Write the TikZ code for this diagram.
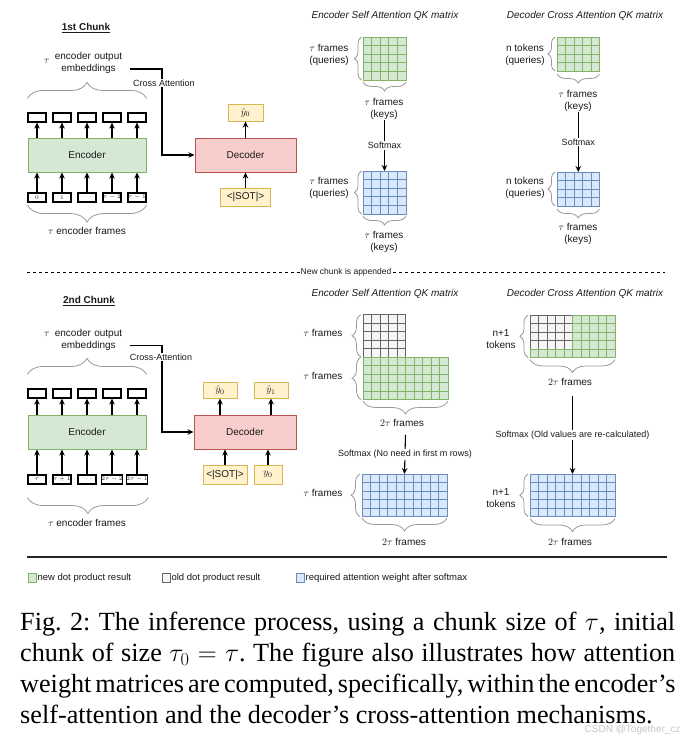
\RequirePackage{fix-cm}
\documentclass[tikz,border=0pt]{standalone}
\usepackage{fontspec}
\setmainfont{Liberation Sans}
\newfontfamily\capfont{Liberation Serif}
\usetikzlibrary{arrows.meta,decorations.pathreplacing,calc}
\definecolor{encF}{HTML}{D5E8D4}\definecolor{encS}{HTML}{82B366}
\definecolor{decF}{HTML}{F8CECC}\definecolor{decS}{HTML}{B85450}
\definecolor{yelF}{HTML}{FFF2CC}\definecolor{yelS}{HTML}{D6B656}
\definecolor{bluF}{HTML}{DAE8FC}\definecolor{bluS}{HTML}{6C8EBF}
\definecolor{gryF}{HTML}{F5F5F5}\definecolor{gryS}{HTML}{666666}
\definecolor{brcC}{HTML}{999999}
\definecolor{txt}{HTML}{1A1A1A}
\newcommand\qkgrid[6]{\foreach \ci in {1,...,#3}{\foreach \ri in {1,...,#4}{\draw[#5] ({#1+(\ci-1)*#6},{#2+(\ri-1)*#6}) rectangle ++(#6,#6);}}}
\newcommand\capline[1]{{\frenchspacing\spaceskip=0.2em plus 0.6em minus 0.05em\relax\makebox[655pt][s]{#1}}}
\newcommand\capnat[1]{{\frenchspacing #1}}
\begin{document}
\begin{tikzpicture}[x=1pt,y=-1pt,
  every node/.style={font=\fontsize{10}{12}\selectfont, text=txt},
  lbl/.style={inner sep=1pt, align=center},
  sm/.style={font=\fontsize{9}{11}\selectfont},
  ttl/.style={font=\fontsize{10}{12}\selectfont\itshape},
  obox/.style={draw=black, fill=white, line width=1.1pt, minimum width=18pt, minimum height=9pt, inner sep=0pt},
  ibox/.style={obox, font=\fontsize{5.5}{6}\selectfont},
  encb/.style={draw=encS, fill=encF, line width=1pt, minimum width=118pt, minimum height=34pt, inner sep=0pt},
  decb/.style={draw=decS, fill=decF, line width=1pt, minimum width=101pt, minimum height=34pt, inner sep=0pt},
  yelb/.style={draw=yelS, fill=yelF, line width=1pt, inner sep=0pt},
  arr/.style={draw=black, line width=1.1pt, -{Stealth[length=6pt,width=5.5pt]}},
  brcl/.style={draw=brcC, line width=0.8pt, decorate},
  gcell/.style={draw=encS, fill=encF, line width=0.9pt},
  bcell/.style={draw=bluS, fill=bluF, line width=0.9pt},
  wcell/.style={draw=gryS, fill=gryF, line width=0.9pt},
  mbox/.style={inner sep=0pt, outer sep=0pt, anchor=north west},
  swlbl/.style={fill=white, sm, inner sep=1pt},
]
\useasboundingbox (0,0) rectangle (690,740);
\fill[white] (0,0) rectangle (690,740);

% ================= 1st chunk =================
\node[font=\fontsize{10}{12}\selectfont\bfseries] (ch1) at (86,28) {\underline{1st Chunk}};
\node[lbl] (tau1) at (47,61) {$\tau$};
\node[lbl, text width=80pt] (emb1) at (88.5,63) {encoder output\\embeddings};
\node[encb] (enc1) at (87,155) {Encoder};
\foreach \i/\x/\t in {1/37/0, 2/62/1, 3/87/{\dots}, 4/112/{\tau-2}, 5/137/{\tau-1}}{
  \node[obox] (o1\i) at (\x,117.5) {};
  \node[ibox] (i1\i) at (\x,197.5) {$\t$};
  \draw[arr] (o1\i.south |- enc1.north) -- (o1\i.south);
  \draw[arr] (i1\i.north) -- (i1\i.north |- enc1.south);
}
\draw[brcl, decoration={brace, amplitude=16pt, raise=14pt}] (o11.north west) -- (o15.north east);
\draw[brcl, decoration={brace, amplitude=17pt, raise=2.5pt}] (i15.south east) -- (i11.south west);
\node[lbl] (ef1) at (87,231) {$\tau$ encoder frames};

\node[decb] (dec1) at (245.5,155) {Decoder};
\node[yelb, minimum width=35pt, minimum height=17pt] (yh1) at (245.5,112.5) {$\hat{y}_0$};
\node[yelb, minimum width=50pt, minimum height=18pt] (sot1) at (245.5,197) {<|SOT|>};
\draw[arr] (yh1.south |- dec1.north) -- (yh1.south);
\draw[arr] (sot1.north) -- (sot1.north |- dec1.south);
\coordinate (c1) at (162,155);
\draw[arr] ([yshift=-6pt]emb1.east) -| (c1) -- (dec1.west);
\node[swlbl] (ca1) at (164,83) {Cross Attention};

% encoder self attention (top)
\node[ttl] (tE1) at (385,16) {Encoder Self Attention QK matrix};
\node[mbox, minimum width=43pt, minimum height=43pt] (mE1g) at (363,37) {};
\qkgrid{363}{37}{5}{5}{gcell}{8.6}
\draw[brcl, decoration={brace, amplitude=7pt, raise=1.5pt}] (mE1g.south west) -- (mE1g.north west);
\draw[brcl, decoration={brace, amplitude=9pt, raise=2pt}] (mE1g.south east) -- (mE1g.south west);
\node[lbl] (qE1g) at (329,55) {$\tau$ frames\\(queries)};
\node[lbl] (kE1g) at (384,108.5) {$\tau$ frames\\(keys)};
\node[mbox, minimum width=43pt, minimum height=43pt] (mE1b) at (363,171) {};
\qkgrid{363}{171}{5}{5}{bcell}{8.6}
\draw[brcl, decoration={brace, amplitude=7pt, raise=1.5pt}] (mE1b.south west) -- (mE1b.north west);
\draw[brcl, decoration={brace, amplitude=9pt, raise=2pt}] (mE1b.south east) -- (mE1b.south west);
\node[lbl] (qE1b) at (329,188) {$\tau$ frames\\(queries)};
\node[lbl] (kE1b) at (384,241.5) {$\tau$ frames\\(keys)};
\draw[arr] (mE1g.south |- kE1g.south) -- node[swlbl] {Softmax} (mE1b.north);

% decoder cross attention (top)
\node[ttl] (tD1) at (585,16) {Decoder Cross Attention QK matrix};
\node[mbox, minimum width=42.5pt, minimum height=34pt] (mD1g) at (557,37) {};
\qkgrid{557}{37}{5}{4}{gcell}{8.5}
\draw[brcl, decoration={brace, amplitude=7pt, raise=2pt}] (mD1g.south west) -- (mD1g.north west);
\draw[brcl, decoration={brace, amplitude=9pt, raise=3pt}] (mD1g.south east) -- (mD1g.south west);
\node[lbl] (qD1g) at (525,55) {n tokens\\(queries)};
\node[lbl] (kD1g) at (578,100.5) {$\tau$ frames\\(keys)};
\node[mbox, minimum width=42.5pt, minimum height=34pt] (mD1b) at (557,172) {};
\qkgrid{557}{172}{5}{4}{bcell}{8.5}
\draw[brcl, decoration={brace, amplitude=7pt, raise=2pt}] (mD1b.south west) -- (mD1b.north west);
\draw[brcl, decoration={brace, amplitude=9pt, raise=3pt}] (mD1b.south east) -- (mD1b.south west);
\node[lbl] (qD1b) at (525,188) {n tokens\\(queries)};
\node[lbl] (kD1b) at (578,233.5) {$\tau$ frames\\(keys)};
\draw[arr] (mD1g.south |- kD1g.south) -- node[swlbl] {Softmax} (mD1b.north);

% ================= separator =================
\coordinate (dl1) at (27,272);
\coordinate (dl2) at (665,272);
\draw[line width=0.8pt, dash pattern=on 3pt off 3pt] (dl1) -- node[fill=white, inner sep=1pt, font=\fontsize{8.5}{10}\selectfont] (nca) {New chunk is appended} (dl2);

% ================= 2nd chunk =================
\node[font=\fontsize{10}{12}\selectfont\bfseries] (ch2) at (89,301) {\underline{2nd Chunk}};
\node[lbl] (tau2) at (47,334) {$\tau$};
\node[lbl, text width=80pt] (emb2) at (88.5,339.5) {encoder output\\embeddings};
\node[encb] (enc2) at (87,432) {Encoder};
\foreach \i/\x/\t in {1/37/{\tau}, 2/62/{\tau+1}, 3/87/{\dots}, 4/112/{2\tau-2}, 5/137/{2\tau-1}}{
  \node[obox] (o2\i) at (\x,393.5) {};
  \node[ibox] (i2\i) at (\x,479.5) {$\t$};
  \draw[arr] (o2\i.south |- enc2.north) -- (o2\i.south);
  \draw[arr] (i2\i.north) -- (i2\i.north |- enc2.south);
}
\draw[brcl, decoration={brace, amplitude=16pt, raise=14pt}] (o21.north west) -- (o25.north east);
\draw[brcl, decoration={brace, amplitude=16pt, raise=13pt}] (i25.south east) -- (i21.south west);
\node[lbl] (ef2) at (87,523) {$\tau$ encoder frames};

\node[decb, minimum width=102pt] (dec2) at (245,432) {Decoder};
\node[yelb, minimum width=34pt, minimum height=16pt] (yh20) at (220,390) {$\hat{y}_0$};
\node[yelb, minimum width=34pt, minimum height=16pt] (yh21) at (271,390) {$\hat{y}_1$};
\node[yelb, minimum width=44pt, minimum height=19pt] (sot2) at (225,474.5) {<|SOT|>};
\node[yelb, minimum width=28pt, minimum height=19pt] (yin2) at (268,474.5) {$y_0$};
\draw[arr] (yh20.south |- dec2.north) -- (yh20.south);
\draw[arr] (yh21.south |- dec2.north) -- (yh21.south);
\draw[arr] (sot2.north) -- (sot2.north |- dec2.south);
\draw[arr] (yin2.north) -- (yin2.north |- dec2.south);
\coordinate (c2) at (162,432);
\draw[arr] ([yshift=-6pt]emb2.east) -| (c2) -- (dec2.west);
\node[swlbl] (ca2) at (161,357) {Cross-Attention};

% encoder self attention (bottom)
\node[ttl] (tE2) at (385,294) {Encoder Self Attention QK matrix};
\node[mbox, minimum width=42.5pt, minimum height=42.5pt] (mE2w) at (363,314.5) {};
\qkgrid{363}{314.5}{5}{5}{wcell}{8.5}
\node[mbox, minimum width=85pt, minimum height=42.5pt] (mE2g) at (363,357) {};
\qkgrid{363}{357}{10}{5}{gcell}{8.5}
\draw[brcl, decoration={brace, amplitude=9pt, raise=2pt}] (mE2w.south west) -- (mE2w.north west);
\draw[brcl, decoration={brace, amplitude=9pt, raise=2pt}] (mE2g.south west) -- (mE2g.north west);
\draw[brcl, decoration={brace, amplitude=13pt, raise=1.5pt}] (mE2g.south east) -- (mE2g.south west);
\node[lbl] (tq2a) at (323,333) {$\tau$ frames};
\node[lbl] (tq2b) at (323,376) {$\tau$ frames};
\node[lbl] (fE2g) at (402,423) {$2\tau$ frames};
\node[mbox, minimum width=85pt, minimum height=42.5pt] (mE2b) at (362,474) {};
\qkgrid{362}{474}{10}{5}{bcell}{8.5}
\draw[brcl, decoration={brace, amplitude=9pt, raise=2pt}] (mE2b.south west) -- (mE2b.north west);
\draw[brcl, decoration={brace, amplitude=13pt, raise=1.5pt}] (mE2b.south east) -- (mE2b.south west);
\node[lbl] (tq2c) at (323,493) {$\tau$ frames};
\node[lbl] (fE2b) at (404,542) {$2\tau$ frames};
\draw[arr] ($(mE2g.south |- fE2g.south)+(0,7)$) -- node[swlbl] {Softmax (No need in first m rows)} (mE2b.north);

% decoder cross attention (bottom)
\node[ttl] (tD2) at (585,294) {Decoder Cross Attention QK matrix};
\node[mbox, minimum width=85pt, minimum height=42.5pt] (mD2g) at (530,315) {};
\qkgrid{530}{315}{5}{4}{wcell}{8.5}
\qkgrid{572.5}{315}{5}{5}{gcell}{8.5}
\qkgrid{530}{349}{5}{1}{gcell}{8.5}
\draw[brcl, decoration={brace, amplitude=8pt, raise=2pt}] (mD2g.south west) -- (mD2g.north west);
\draw[brcl, decoration={brace, amplitude=13pt, raise=2pt}] (mD2g.south east) -- (mD2g.south west);
\node[lbl] (nD2g) at (501,339) {n+1\\tokens};
\node[lbl] (fD2g) at (570,382) {$2\tau$ frames};
\node[mbox, minimum width=85pt, minimum height=42.5pt] (mD2b) at (530,474) {};
\qkgrid{530}{474}{10}{5}{bcell}{8.5}
\draw[brcl, decoration={brace, amplitude=8pt, raise=2pt}] (mD2b.south west) -- (mD2b.north west);
\draw[brcl, decoration={brace, amplitude=13pt, raise=2pt}] (mD2b.south east) -- (mD2b.south west);
\node[lbl] (nD2b) at (501,498) {n+1\\tokens};
\node[lbl] (fD2b) at (570,542) {$2\tau$ frames};
\draw[arr] ($(mD2g.south |- fD2g.south)+(0,9)$) -- node[swlbl] {Softmax (Old values are re-calculated)} (mD2b.north);

% ================= legend =================
\coordinate (sl1) at (27,557);
\coordinate (sl2) at (667,557);
\draw[line width=1.2pt, draw=black!85] (sl1) -- (sl2);
\node[draw=encS, fill=encF, line width=0.8pt, minimum width=8pt, minimum height=9pt, inner sep=0pt] (lg1) at (32,578) {};
\node[anchor=west, inner sep=1pt, font=\fontsize{9.5}{11}\selectfont] (lt1) at (lg1.east) {new dot product result};
\node[draw=gryS, fill=gryF, line width=0.8pt, minimum width=8pt, minimum height=9pt, inner sep=0pt] (lg2) at (166,578) {};
\node[anchor=west, inner sep=1pt, font=\fontsize{9.5}{11}\selectfont] (lt2) at (lg2.east) {old dot product result};
\node[draw=bluS, fill=bluF, line width=0.8pt, minimum width=8pt, minimum height=9pt, inner sep=0pt] (lg3) at (300,578) {};
\node[anchor=west, inner sep=1pt, font=\fontsize{9.5}{11}\selectfont] (lt3) at (lg3.east) {required attention weight after softmax};

% ================= caption =================
\node[anchor=north west, inner sep=0pt, align=left, text=black,
      font=\capfont\fontsize{26.2}{30.8}\selectfont] (cap) at (20,612)
  {\capline{Fig. 2: The inference process, using a chunk size of $\tau$, initial}\\
   \capline{chunk of size $\tau_0=\tau$. The figure also illustrates how attention}\\
   \capline{weight matrices are computed, specifically, within the encoder’s}\\
   \capnat{self-attention and the decoder’s cross-attention mechanisms.}};
\node[text=black!22, font=\fontsize{10}{11}\selectfont, anchor=east] (wm) at (684,730) {CSDN @Together\_cz};
\end{tikzpicture}
\end{document}
